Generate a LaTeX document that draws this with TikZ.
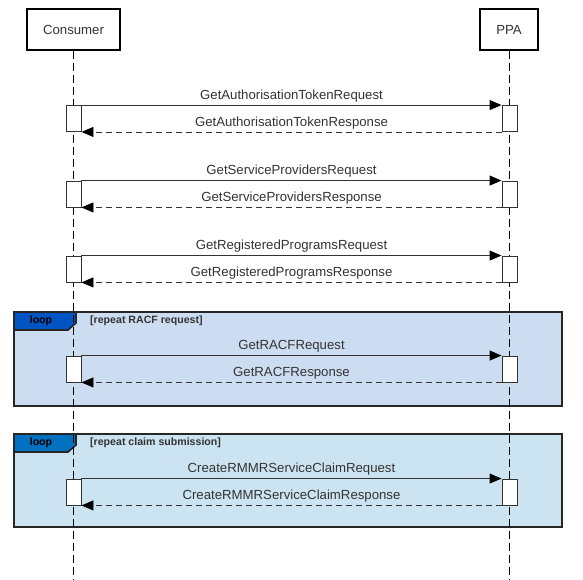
\documentclass[tikz,border=0pt]{standalone}
\usepackage{fontspec}
\setmainfont{Liberation Sans}
\usetikzlibrary{arrows.meta}
\definecolor{loopOneFill}{HTML}{CCDDF2}
\definecolor{loopTwoFill}{HTML}{CCE4F2}
\definecolor{tabOne}{HTML}{0054C4}
\definecolor{tabTwo}{HTML}{0070C0}
\definecolor{lineGray}{HTML}{333333}
\begin{document}
\begin{tikzpicture}[x=1pt, y=-1pt]
\tikzstyle{head} = [rectangle, draw=black, line width=1.6pt, minimum height=41pt, font=\fontsize{13.2}{15}\selectfont, text=lineGray, inner sep=0pt]
\tikzstyle{act} = [rectangle, draw=lineGray, fill=white, line width=0.9pt, minimum width=15pt, minimum height=26pt, inner sep=0pt]
\tikzstyle{lifeline} = [draw=black, line width=0.8pt, dash pattern=on 8pt off 4pt]
\tikzstyle{msg} = [draw=lineGray, line width=0.9pt, -{Triangle[length=12pt,width=10pt,color=black]}]
\tikzstyle{reply} = [msg, dash pattern=on 6pt off 4pt]
\tikzstyle{msgLabel} = [above, inner sep=2.5pt, text=lineGray, font=\fontsize{13.2}{15}\selectfont]
\tikzstyle{frame} = [draw=black!85, line width=1.6pt]
\tikzstyle{guard} = [font=\bfseries\fontsize{10.6}{12}\selectfont, text=lineGray, inner sep=0pt]
\useasboundingbox (0,0) rectangle (583,579);
% loop frames
\draw[frame, fill=loopOneFill] (14,312) rectangle (562,406);
\draw[frame, fill=tabOne] (14,312) -- (76,312) -- (76,323) -- (68,330) -- (14,330) -- cycle;
\node[guard, text=black] (L1) at (41,321) {loop};
\node[guard, anchor=west] (G1) at (90,321) {[repeat RACF request]};
\draw[frame, fill=loopTwoFill] (14,434) rectangle (562,527);
\draw[frame, fill=tabTwo] (14,434) -- (76,434) -- (76,445) -- (68,452) -- (14,452) -- cycle;
\node[guard, text=black] (L2) at (41,443) {loop};
\node[guard, anchor=west] (G2) at (90,443) {[repeat claim submission]};
% participants
\node[head, minimum width=93pt] (consumer) at (73.5,29.5) {Consumer};
\node[head, minimum width=58pt] (ppa) at (509,29.5) {PPA};
\coordinate (consumerEnd) at (73.5,579);
\coordinate (ppaEnd) at (509,579);
\draw[lifeline] (consumer.south) -- (consumerEnd);
\draw[lifeline] (ppa.south) -- (ppaEnd);
% activations
\node[act] (C1) at (73.5,118.5) {};
\node[act] (P1) at (509.5,118.5) {};
\node[act] (C2) at (73.5,194) {};
\node[act] (P2) at (509.5,194) {};
\node[act] (C3) at (73.5,269) {};
\node[act] (P3) at (509.5,269) {};
\node[act] (C4) at (73.5,369) {};
\node[act] (P4) at (509.5,369) {};
\node[act] (C5) at (73.5,492) {};
\node[act] (P5) at (509.5,492) {};
% messages
\draw[msg] (C1.north east) -- node[msgLabel] {GetAuthorisationTokenRequest} (P1.north west);
\draw[reply] (P1.south west) -- node[msgLabel] {GetAuthorisationTokenResponse} (C1.south east);
\draw[msg] (C2.north east) -- node[msgLabel] {GetServiceProvidersRequest} (P2.north west);
\draw[reply] (P2.south west) -- node[msgLabel] {GetServiceProvidersResponse} (C2.south east);
\draw[msg] (C3.north east) -- node[msgLabel] {GetRegisteredProgramsRequest} (P3.north west);
\draw[reply] (P3.south west) -- node[msgLabel] {GetRegisteredProgramsResponse} (C3.south east);
\draw[msg] (C4.north east) -- node[msgLabel] {GetRACFRequest} (P4.north west);
\draw[reply] (P4.south west) -- node[msgLabel] {GetRACFResponse} (C4.south east);
\draw[msg] (C5.north east) -- node[msgLabel] {CreateRMMRServiceClaimRequest} (P5.north west);
\draw[reply] (P5.south west) -- node[msgLabel] {CreateRMMRServiceClaimResponse} (C5.south east);
\end{tikzpicture}
\end{document}
